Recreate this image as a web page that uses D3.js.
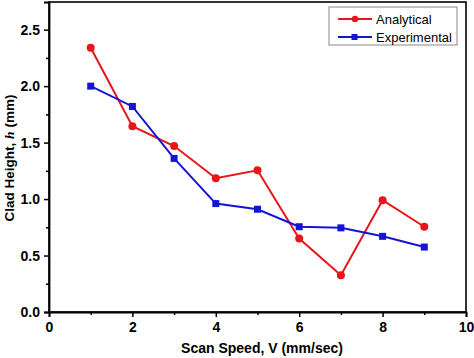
<!DOCTYPE html>
<html>
<head>
<meta charset="utf-8">
<script src="https://cdn.jsdelivr.net/npm/d3@7"></script>
<style>
  body { margin: 0; background: #fff; }
  text { font-family: "Liberation Sans", Arial, sans-serif; }
</style>
</head>
<body>
<div id="vis"></div>
<script>
// chart data
var speeds = [1, 2, 3, 4, 5, 6, 7, 8, 9];
var analytical = [2.34, 1.645, 1.47, 1.185, 1.255, 0.65, 0.325, 0.99, 0.755];
var experimental = [2.0, 1.82, 1.36, 0.96, 0.91, 0.755, 0.745, 0.67, 0.575];
var xTicks = [0, 2, 4, 6, 8, 10];
var yTicks = [0, 0.5, 1.0, 1.5, 2.0, 2.5];
var seriesNames = ["Analytical", "Experimental"];

var width = 474, height = 358;
var margin = { top: 2, right: 8, bottom: 46, left: 49 };
var red = "#e8161b", blue = "#1414d6";

var svg = d3.select("#vis").append("svg")
    .attr("width", width)
    .attr("height", height);

var x = d3.scaleLinear().domain([0, 10]).range([margin.left, width - margin.right]);
var y = d3.scaleLinear().domain([0, 2.745]).range([height - margin.bottom, margin.top]);

// frame (top + right)
svg.append("rect")
    .attr("x", x(0)).attr("y", y(2.745))
    .attr("width", x(10) - x(0)).attr("height", y(0) - y(2.745))
    .attr("fill", "none").attr("stroke", "#000").attr("stroke-width", 1.6);

// x axis, major + minor ticks
svg.append("g")
    .attr("transform", "translate(0," + y(0) + ")")
    .call(d3.axisBottom(x).tickValues(xTicks).tickSize(5).tickPadding(5).tickFormat(d3.format("d")));
svg.append("g")
    .attr("transform", "translate(0," + y(0) + ")")
    .call(d3.axisBottom(x).tickValues([1, 3, 5, 7, 9]).tickSize(3).tickFormat(""))
    .select(".domain").remove();

// y axis
svg.append("g")
    .attr("transform", "translate(" + x(0) + ",0)")
    .call(d3.axisLeft(y).tickValues(yTicks).tickSize(5).tickPadding(4).tickFormat(d3.format(".1f")));
svg.append("g")
    .attr("transform", "translate(" + x(0) + ",0)")
    .call(d3.axisLeft(y).tickValues([0.25, 0.75, 1.25, 1.75, 2.25]).tickSize(3).tickFormat(""))
    .select(".domain").remove();

svg.selectAll(".domain").attr("stroke-width", 1.8);
svg.selectAll(".tick line").attr("stroke-width", 1.5);
svg.selectAll(".tick text")
    .attr("font-family", "Liberation Sans, Arial, sans-serif")
    .attr("font-size", 14)
    .attr("font-weight", "bold")
    .attr("fill", "#000");

// axis titles
svg.append("text")
    .attr("x", 262).attr("y", 353)
    .attr("text-anchor", "middle")
    .attr("font-size", 14).attr("font-weight", "bold")
    .text("Scan Speed, V (mm/sec)");

var yt = svg.append("text")
    .attr("transform", "translate(14,158) rotate(-90)")
    .attr("text-anchor", "middle")
    .attr("font-size", 13.5).attr("font-weight", "bold");
yt.append("tspan").text("Clad Height, ");
yt.append("tspan").attr("font-style", "italic").attr("font-family", "Liberation Serif, serif").text("h");
yt.append("tspan").text(" (mm)");

// lines
var line = d3.line()
    .x(function(d, i) { return x(speeds[i]); })
    .y(function(d) { return y(d); });

svg.append("path").datum(analytical)
    .attr("d", line).attr("fill", "none")
    .attr("stroke", red).attr("stroke-width", 2);
svg.append("path").datum(experimental)
    .attr("d", line).attr("fill", "none")
    .attr("stroke", blue).attr("stroke-width", 2);

svg.selectAll(".dot").data(analytical).enter().append("circle")
    .attr("cx", function(d, i) { return x(speeds[i]); })
    .attr("cy", function(d) { return y(d); })
    .attr("r", 4).attr("fill", red);

svg.selectAll(".sq").data(experimental).enter().append("rect")
    .attr("x", function(d, i) { return x(speeds[i]) - 3.5; })
    .attr("y", function(d) { return y(d) - 3.5; })
    .attr("width", 7).attr("height", 7).attr("fill", blue);

// legend
var lg = svg.append("g").attr("transform", "translate(329,7)");
lg.append("rect")
    .attr("width", 128).attr("height", 38)
    .attr("fill", "#fff").attr("stroke", "#888").attr("stroke-width", 1);

seriesNames.forEach(function(name, i) {
  var c = i ? blue : red, yy = 12 + i * 18;
  lg.append("line").attr("x1", 9).attr("x2", 43).attr("y1", yy).attr("y2", yy)
      .attr("stroke", c).attr("stroke-width", 2);
  if (i) {
    lg.append("rect").attr("x", 22.5).attr("y", yy - 3).attr("width", 6).attr("height", 6).attr("fill", c);
  } else {
    lg.append("circle").attr("cx", 26).attr("cy", yy).attr("r", 3.2).attr("fill", c);
  }
  lg.append("text").attr("x", 47).attr("y", yy + 4.5)
      .attr("font-size", 13).text(name);
});
</script>
</body>
</html>
